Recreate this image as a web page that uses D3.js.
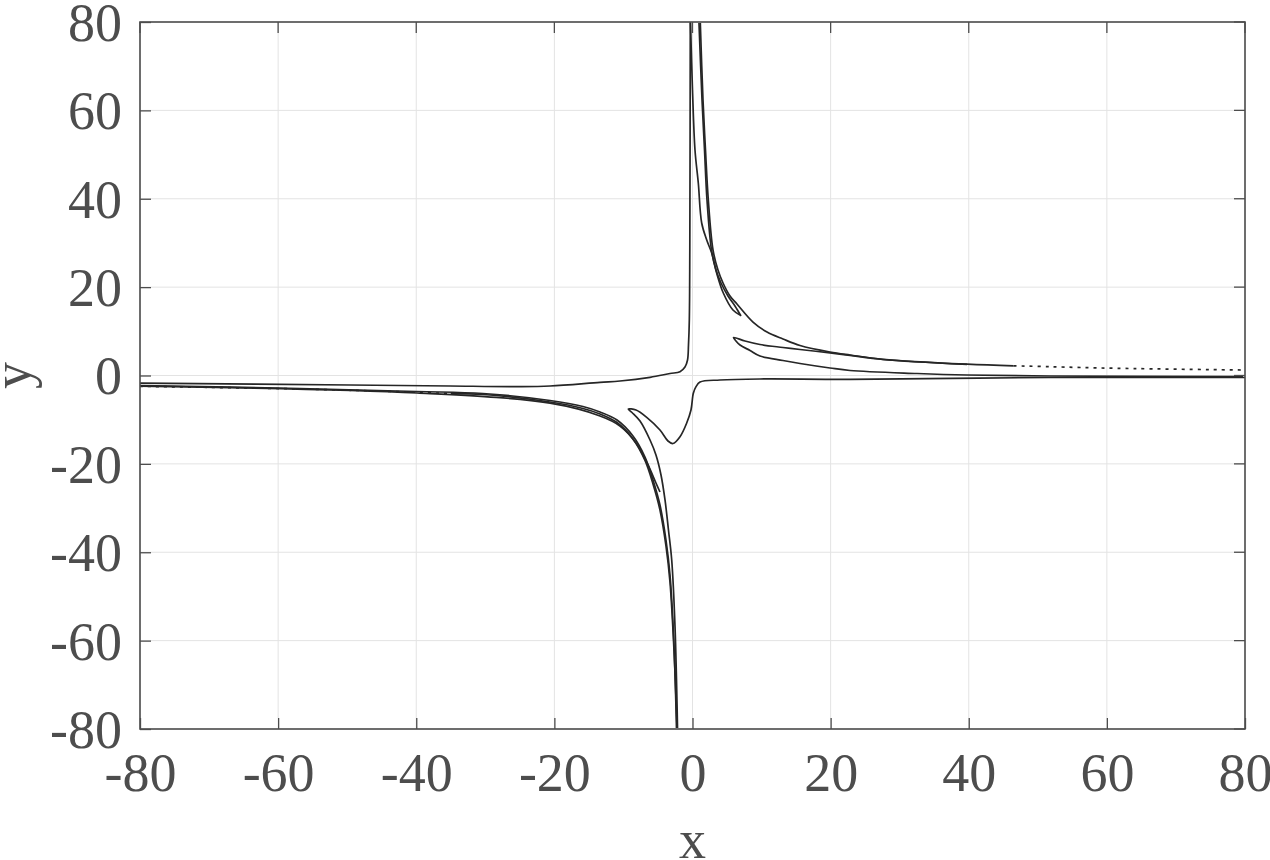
<!DOCTYPE html>
<html>
<head>
    <meta charset="utf-8">
    <title>Phase portrait</title>
    <style>
        body { margin: 0; background: #fff; }
        .grid line { stroke: #e3e3e3; stroke-width: 1; }
        .traj { fill: none; stroke: #262626; stroke-width: 1.7; }
        .traj.dotted { stroke-dasharray: 3, 5; }
    </style>
</head>
<body>
    <script src="https://d3js.org/d3.v7.min.js"></script>
    <script>
        const width = 1270;
        const height = 860;
        const margin = {top: 22, right: 25, bottom: 131, left: 140};
        const labelFont = "'Liberation Serif', 'Times New Roman', Times, serif";

        const xTicks = [-80, -60, -40, -20, 0, 20, 40, 60, 80];
        const yTicks = [-80, -60, -40, -20, 0, 20, 40, 60, 80];

        // trajectories, [x, y]
        const upperLeft = [[-80, -1.74], [-49.59, -2.15], [-35.11, -2.38], [-25.41, -2.51], [-20.63, -2.38],
            [-13.39, -1.54], [-10.5, -1.24], [-6.15, -0.41], [-3.26, 0.45], [-1.81, 0.86], [-1.09, 1.92],
            [-0.72, 3.51], [-0.58, 6.9], [-0.46, 12.56], [-0.39, 28.4], [-0.32, 80]];
        const lowerLoop = [[80, -0.45], [51.77, -0.45], [22.81, -0.86], [9.77, -0.79], [3.98, -1.02],
            [1.09, -1.47], [0.51, -2.53], [0.12, -4.03], [-0.22, -7.81], [-0.84, -10.75], [-1.81, -13.85],
            [-2.82, -15.39], [-3.55, -14.82], [-4.71, -12.33], [-6.63, -9.46], [-8.18, -7.81], [-9.3, -7.58],
            [-8.76, -8.37], [-7.6, -10.3], [-6.15, -14.6], [-5.29, -17.99], [-4.56, -22.51], [-3.98, -28.17],
            [-3.48, -34.96], [-3.01, -41.75], [-2.53, -56.91], [-2.17, -79.77]];
        const lowerA = [[-80, -2.26], [-56.84, -2.94], [-39.89, -3.62], [-30.34, -4.07], [-20.63, -5.66],
            [-15.86, -7.02], [-13.39, -8.26], [-10.93, -10.07], [-8.62, -13.69], [-6.88, -18.44], [-5.72, -23.65],
            [-4.71, -29.31], [-3.84, -37.23], [-3.26, -45.15], [-2.68, -60.99], [-2.32, -79.77]];
        const lowerB = [[-35, -4.1], [-30.34, -4.3], [-20.63, -6.0], [-15.86, -7.47], [-13.39, -8.71],
            [-10.93, -10.64], [-8.62, -14.37], [-6.88, -19.24], [-5.72, -24.55], [-4.71, -30.44], [-3.84, -38.58],
            [-3.26, -46.73], [-2.68, -62.12], [-2.24, -79.77]];
        const lowerBTail = [[-80, -2.45], [-56.84, -3.05], [-39.89, -3.8], [-35, -4.1]];
        const lowerC = [[-80, -2.4], [-39.89, -3.96], [-20.63, -6.27], [-13.39, -9.17], [-10.5, -11.43],
            [-8.18, -15.27], [-6.44, -20.25], [-5.29, -24.33], [-4.71, -26.36]];
        const upperA = [[1.13, 79.77], [1.52, 62.35], [1.88, 51.03], [2.29, 39.72], [2.97, 28.4], [3.69, 23.87],
            [4.42, 20.93], [5.43, 17.99], [6.44, 16.18], [8.76, 12.1], [10.79, 9.84], [13.1, 8.26], [15.57, 6.79],
            [19.91, 5.32], [22.81, 4.64], [27.59, 3.67], [39.75, 2.56], [46.5, 2.2]];
        const upperATail = [[46.5, 2.2], [51.77, 1.99], [61.47, 1.63], [79.71, 1.24]];
        const upperB = [[-0.29, 79.77], [0.0, 64.61], [0.36, 51.03], [0.84, 43.56], [1.33, 34.51], [2.06, 30.66],
            [2.78, 27.72], [3.5, 23.19], [4.46, 18.67], [5.86, 14.82], [6.88, 13.69]];
        const upperC = [[0.94, 79.77], [1.38, 62.35], [1.74, 51.03], [2.1, 39.72], [2.75, 28.4], [3.4, 23.87],
            [4.13, 20.93], [5.14, 17.99], [6.15, 15.73], [7.02, 13.46]];
        const rightLoop = [[39.75, 2.52], [27.59, 3.62], [22.81, 4.55], [19.91, 5.12], [15.57, 5.88], [13.1, 6.34],
            [9.77, 7.02], [7.6, 7.81], [5.94, 8.6], [6.3, 7.81], [6.88, 6.9], [8.33, 5.66], [9.77, 4.41],
            [13.1, 3.39], [15.57, 2.72], [19.91, 1.7], [22.81, 1.13], [32.51, 0.45], [39.75, 0.11],
            [51.77, -0.11], [79.71, -0.27]];

        const solid = [upperLeft, lowerLoop, lowerA, lowerB, lowerC, upperA, upperB, upperC, rightLoop];
        const dotted = [lowerBTail, upperATail];

        const svg = d3.select("body").append("svg")
            .attr("width", width)
            .attr("height", height);

        const x = d3.scaleLinear().domain([-80, 80]).range([margin.left, width - margin.right]);
        const y = d3.scaleLinear().domain([-80, 80]).range([height - margin.bottom, margin.top]);

        // grid
        const grid = svg.append("g").attr("class", "grid");
        grid.selectAll(".gx").data(xTicks).enter().append("line")
            .attr("x1", d => x(d)).attr("x2", d => x(d))
            .attr("y1", y(-80)).attr("y2", y(80));
        grid.selectAll(".gy").data(yTicks).enter().append("line")
            .attr("y1", d => y(d)).attr("y2", d => y(d))
            .attr("x1", x(-80)).attr("x2", x(80));

        svg.append("clipPath").attr("id", "plot")
            .append("rect")
            .attr("x", x(-80)).attr("y", y(80))
            .attr("width", x(80) - x(-80)).attr("height", y(-80) - y(80));

        const line = d3.line()
            .x(d => x(d[0]))
            .y(d => y(d[1]))
            .curve(d3.curveCatmullRom.alpha(0.5));

        const plot = svg.append("g").attr("clip-path", "url(#plot)");
        plot.selectAll(".solid").data(solid).enter().append("path")
            .attr("class", "traj")
            .attr("d", line);
        plot.selectAll(".dot").data(dotted).enter().append("path")
            .attr("class", "traj dotted")
            .attr("d", line);

        // axes, MATLAB-like: ticks inside, box around
        const tickLen = 11;
        const axisColor = "#4d4d4d";
        const fmt = d => String(d); // plain hyphen, not the unicode minus

        const gx = svg.append("g")
            .attr("transform", `translate(0,${y(-80)})`)
            .call(d3.axisBottom(x).tickValues(xTicks).tickFormat(fmt).tickSize(tickLen));
        gx.selectAll(".tick line").attr("y2", -tickLen);
        gx.selectAll("text").attr("y", 23).attr("dy", "0.72em");

        const gy = svg.append("g")
            .attr("transform", `translate(${x(-80)},0)`)
            .call(d3.axisLeft(y).tickValues(yTicks).tickFormat(fmt).tickSize(tickLen).tickPadding(7));
        gy.selectAll(".tick line").attr("x2", tickLen);
        gy.selectAll("text").attr("dy", "0.34em");

        [gx, gy].forEach(g => {
            g.attr("font-family", null).attr("font-size", null);
            g.select(".domain").remove();
            g.selectAll(".tick line").attr("stroke", axisColor).attr("stroke-width", 1.3);
            g.selectAll("text")
                .attr("fill", axisColor)
                .style("font-family", labelFont)
                .style("font-size", "54px");
        });

        // top/right ticks
        svg.append("g").selectAll("line").data(xTicks).enter().append("line")
            .attr("x1", d => x(d)).attr("x2", d => x(d))
            .attr("y1", y(80)).attr("y2", y(80) + tickLen)
            .attr("stroke", axisColor).attr("stroke-width", 1.3);
        svg.append("g").selectAll("line").data(yTicks).enter().append("line")
            .attr("y1", d => y(d)).attr("y2", d => y(d))
            .attr("x1", x(80)).attr("x2", x(80) - tickLen)
            .attr("stroke", axisColor).attr("stroke-width", 1.3);

        svg.append("rect")
            .attr("x", x(-80)).attr("y", y(80))
            .attr("width", x(80) - x(-80)).attr("height", y(-80) - y(80))
            .attr("fill", "none").attr("stroke", axisColor).attr("stroke-width", 1.6);

        // axis titles
        svg.append("text")
            .attr("x", x(0)).attr("y", 858)
            .attr("text-anchor", "middle")
            .attr("fill", axisColor)
            .style("font-family", labelFont).style("font-size", "54px")
            .text("x");
        svg.append("text")
            .attr("transform", `translate(30,${y(0)}) rotate(-90)`)
            .attr("text-anchor", "middle")
            .attr("fill", axisColor)
            .style("font-family", labelFont).style("font-size", "54px")
            .text("y");
    </script>
</body>
</html>
